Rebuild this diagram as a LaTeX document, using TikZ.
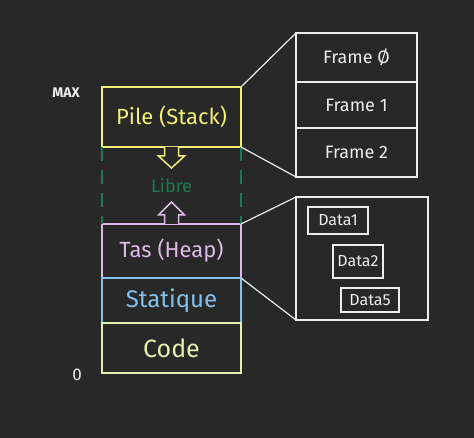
\documentclass[tikz,border=0pt]{standalone}
\usepackage{fontspec}
\setmainfont{Fira Sans}
\usepackage{tikz}
\usetikzlibrary{
	positioning
}
\definecolor{BgGray}{RGB}{40,40,40}
\definecolor{Chalk}{RGB}{236,236,236}
\definecolor{StackYellow}{RGB}{242,238,118}
\definecolor{FreeGreen}{RGB}{28,122,82}
\definecolor{HeapPink}{RGB}{222,184,232}
\definecolor{StaticBlue}{RGB}{132,192,236}
\definecolor{CodeYellow}{RGB}{230,240,172}

\begin{document}
\begin{tikzpicture}[x=1pt, y=-1pt,
		seg/.style={draw, line width=1.5pt, minimum width=139pt, inner sep=0pt, outer sep=0pt, font=\fontsize{22}{22}\selectfont},
		frm/.style={draw=Chalk, line width=1.5pt, minimum width=121pt, inner sep=0pt, outer sep=0pt, text=Chalk, font=\fontsize{18}{18}\selectfont},
		dat/.style={draw=Chalk, line width=1.3pt, inner sep=0pt, text=Chalk, font=\fontsize{16}{16}\selectfont},
		link/.style={Chalk, line width=1.2pt}]
		
		\fill[BgGray] (0,0) rectangle (474,438);
		\useasboundingbox (0,0) rectangle (474,438);
		
		% memory column
		\node[seg, StackYellow, minimum height=60pt] (pile) at (171.5,117) {Pile (Stack)};
		\node[seg, draw=none, text=FreeGreen, minimum height=77pt, font=\fontsize{18}{18}\selectfont, below=0pt of pile] (libre) {Libre};
		\node[seg, HeapPink, minimum height=54pt, below=0pt of libre] (heap) {Tas (Heap)};
		\node[seg, StaticBlue, minimum height=45pt, font=\fontsize{24}{24}\selectfont, below=0pt of heap] (static) {Statique};
		\node[seg, CodeYellow, minimum height=50pt, font=\fontsize{25}{25}\selectfont, below=0pt of static] (code) {Code};
		
		\draw[FreeGreen, line width=1.5pt, dash pattern=on 14pt off 9pt] (libre.north west) -- (libre.south west);
		\draw[FreeGreen, line width=1.5pt, dash pattern=on 14pt off 9pt] (libre.north east) -- (libre.south east);
		
		% growth arrows
		\draw[StackYellow, fill=BgGray, line width=1.5pt] ([xshift=-7pt]pile.south) -- ++(0,9) -- ++(-6,0) -- ++(13,12) -- ++(13,-12) -- ++(-6,0) -- ++(0,-9);
		\draw[HeapPink, fill=BgGray, line width=1.5pt] ([xshift=-7pt]heap.north) -- ++(0,-9) -- ++(-6,0) -- ++(13,-13) -- ++(13,13) -- ++(-6,0) -- ++(0,9);
		
		\node[text=Chalk, font=\bfseries\fontsize{14}{14}\selectfont] (max) at (66,93) {MAX};
		\node[text=Chalk, font=\fontsize{17}{17}\selectfont] (zero) at (77,375) {0};
		
		% stack frames
		\node[frm, minimum height=49pt] (frame0) at (356.5,57.5) {Frame Ø};
		\node[frm, minimum height=46pt, below=0pt of frame0] (frame1) {Frame 1};
		\node[frm, minimum height=49pt, below=0pt of frame1] (frame2) {Frame 2};
		
		\draw[link] (pile.north east) -- (frame0.north west);
		\draw[link] (pile.south east) -- (frame2.south west);
		
		% heap data
		\node[draw=Chalk, line width=1.5pt, minimum width=132pt, minimum height=123pt, inner sep=0pt, outer sep=0pt] (heapzone) at (362,258.5) {};
		\node[dat, minimum width=60pt, minimum height=27pt] (data1) at (338,220.5) {Data1};
		\node[dat, minimum width=50pt, minimum height=33pt] (data2) at (358,261.5) {Data2};
		\node[dat, minimum width=58pt, minimum height=24pt] (data5) at (370,300) {Data5};
		
		\draw[link] (heap.north east) -- (heapzone.north west);
		\draw[link] (heap.south east) -- (heapzone.south west);
	\end{tikzpicture}
\end{document}
